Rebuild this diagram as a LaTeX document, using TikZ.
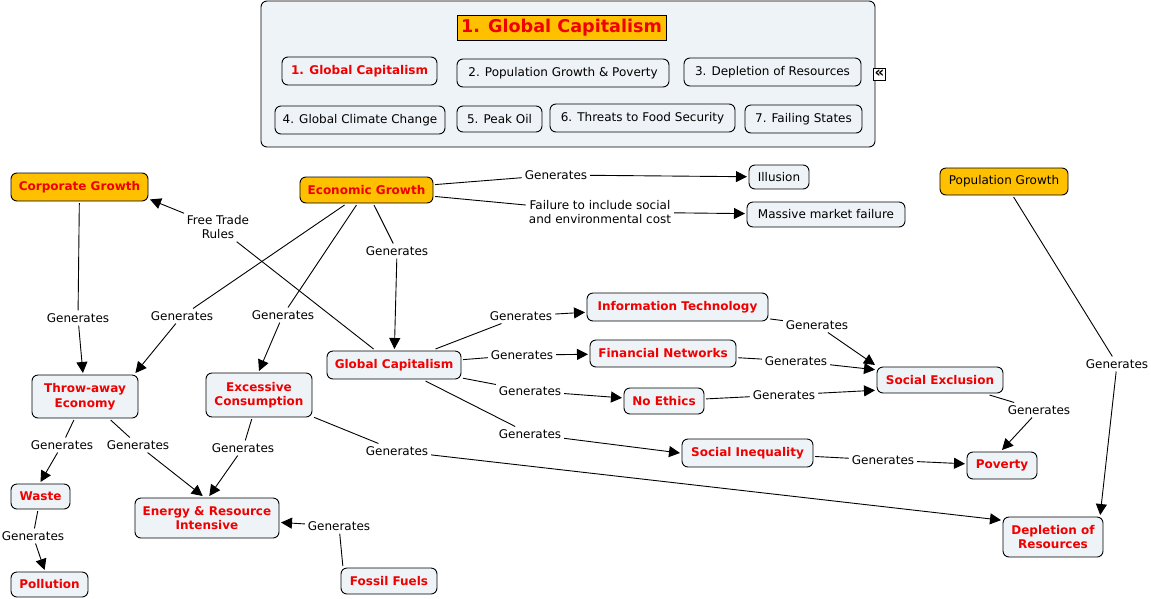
\documentclass[tikz,border=0pt]{standalone}
\usepackage{fontspec}
\setmainfont{DejaVu Sans}
\usetikzlibrary{arrows.meta}
\definecolor{panelfill}{HTML}{EDF3F6}
\definecolor{goldfill}{HTML}{FFC000}
\definecolor{hotred}{HTML}{F00000}
\tikzset{
  box/.style={draw=black, line width=0.9pt, fill=panelfill, rounded corners=6pt, align=center, inner sep=0pt, outer sep=2pt, font=\fontsize{12}{14.5}\selectfont},
  hot/.style={box, text=hotred, font=\fontsize{12}{14.5}\selectfont\bfseries},
  gold/.style={fill=goldfill},
  linker/.style={align=center, inner sep=1pt, outer sep=2pt, font=\fontsize{12}{14}\selectfont},
  >={Triangle[length=11pt,width=11pt]}
}
\begin{document}
\begin{tikzpicture}[x=1pt,y=-1pt,line width=0.9pt]
\useasboundingbox (0,0) rectangle (1151,598);

// top panel
\node[box, minimum width=614pt, minimum height=146pt, outer sep=0pt] (panel) at (568,74) {};
\node[draw=black, fill=goldfill, line width=0.9pt, text=hotred, inner sep=0pt, minimum width=209pt, minimum height=25pt, font=\fontsize{17.6}{20}\selectfont\bfseries] (title) at (561.5,27.5) {1. Global Capitalism};
\node[draw=black, fill=white, line width=0.9pt, inner sep=0pt, minimum width=12pt, minimum height=12pt, font=\fontsize{15}{12}\selectfont\bfseries] (collapse) at (879.5,74) {«};

\foreach \name/\x/\y/\w/\h/\lab in {
  btnA/359.5/71/155/28/{\textcolor{hotred}{\bfseries 1. Global Capitalism}},
  btnB/563/73/212/28/{2. Population Growth \& Poverty},
  btnC/772.5/72/177/28/{3. Depletion of Resources},
  btnD/360/120/170/28/{4. Global Climate Change},
  btnE/499.5/119/85/26/{5. Peak Oil},
  btnF/642.5/118/185/28/{6. Threats to Food Security},
  btnG/803.5/119/117/28/{7. Failing States}} {
  \node[box, minimum width=\w pt, minimum height=\h pt] (\name) at (\x,\y) {\lab};
}

// concepts with bold red text
\foreach \name/\x/\y/\w/\h/\lab in {
  info/677.5/307/181/28/{Information Technology},
  finance/663/353.5/146/27/{Financial Networks},
  capitalism/394/365/134/28/{Global Capitalism},
  ethics/664/401/80/26/{No Ethics},
  exclusion/940/380/126/26/{Social Exclusion},
  inequality/747.5/453/131/28/{Social Inequality},
  poverty/1002/465.5/70/27/{Poverty},
  throwaway/85/396.5/106/43/{Throw-away\\Economy},
  excessive/259/395/106/44/{Excessive\\Consumption},
  waste/40.5/496.5/59/25/{Waste},
  energy/207/518/144/40/{Energy \& Resource\\Intensive},
  pollution/49.5/584.5/77/25/{Pollution},
  fossil/389/581/96/26/{Fossil Fuels},
  depletion/1053/537/100/40/{Depletion of\\Resources}} {
  \node[hot, minimum width=\w pt, minimum height=\h pt] (\name) at (\x,\y) {\lab};
}

\node[hot, gold, minimum width=137pt, minimum height=28pt] (corporate) at (79.5,187) {Corporate Growth};
\node[hot, gold, minimum width=133pt, minimum height=26pt] (economic) at (366.5,190) {Economic Growth};
\node[box, gold, minimum width=128pt, minimum height=27pt] (population) at (1004,181.5) {Population Growth};
\node[box, minimum width=60pt, minimum height=24pt] (illusion) at (779,177) {Illusion};
\node[box, minimum width=158pt, minimum height=25pt] (market) at (826,214.5) {Massive market failure};

// linking phrases
\foreach \name/\x/\y/\lab in {
  lnkIllusion/556/175/Generates,
  lnkMarket/600/212/{Failure to include social\\and environmental cost},
  lnkTrade/218/227/{Free Trade\\Rules},
  lnkCapital/397/251/Generates,
  lnkThrow/182/316/Generates,
  lnkExcess/283/315/Generates,
  lnkCorp/78/318/Generates,
  lnkInfo/521/316/Generates,
  lnkFin/522/355/Generates,
  lnkEthics/530/391/Generates,
  lnkIneq/530/434/Generates,
  lnkInfoEx/817/325/Generates,
  lnkFinEx/796/361/Generates,
  lnkEthEx/784/395/Generates,
  lnkPoverty/1039/410/Generates,
  lnkIneqPov/883/460/Generates,
  lnkPop/1117/364/Generates,
  lnkDeplete/397/451/Generates,
  lnkWaste/62/445/Generates,
  lnkThrowEn/138/445/Generates,
  lnkExEn/243/448/Generates,
  lnkPollute/33/536/Generates,
  lnkFossil/339/526/Generates} {
  \node[linker] (\name) at (\x,\y) {\lab};
}

\foreach \a/\lab/\b in {
  economic/lnkIllusion/illusion,
  economic/lnkMarket/market,
  capitalism/lnkTrade/corporate.-10,
  economic/lnkCapital/capitalism,
  economic/lnkThrow/throwaway.25,
  economic/lnkExcess/excessive.north,
  corporate/lnkCorp/throwaway,
  capitalism/lnkInfo/info,
  capitalism/lnkFin/finance,
  capitalism/lnkEthics/ethics,
  capitalism/lnkIneq/inequality.west,
  info/lnkInfoEx/exclusion.north west,
  finance/lnkFinEx/exclusion.171,
  ethics/lnkEthEx/exclusion.189,
  exclusion/lnkPoverty/poverty.north,
  inequality/lnkIneqPov/poverty,
  population/lnkPop/depletion.25,
  excessive/lnkDeplete/depletion.162,
  throwaway/lnkWaste/waste.north,
  throwaway/lnkThrowEn/energy.101,
  excessive/lnkExEn/energy.84,
  waste/lnkPollute/pollution,
  fossil.162/lnkFossil/energy} {
  \draw (\a) -- (\lab);
  \draw[->] (\lab) -- (\b);
}
\end{tikzpicture}
\end{document}
